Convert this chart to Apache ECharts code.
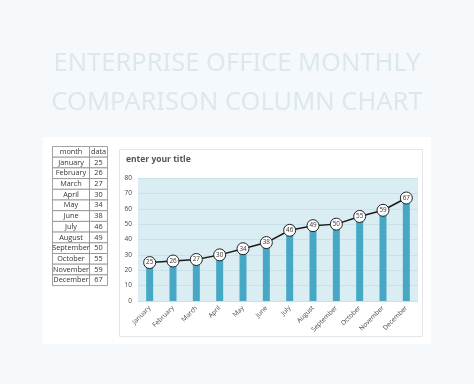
<!DOCTYPE html>
<html><head><meta charset="utf-8">
<script src="https://cdn.jsdelivr.net/npm/echarts@6/dist/echarts.min.js"></script>
<style>html,body{margin:0;padding:0;background:#f5f9fc;}#c{width:474px;height:384px;}</style>
</head><body><div id="c"></div>
<script>
var months = ['January','February','March','April','May','June','July','August','September','October','November','December'];
var values = [25,26,27,30,34,38,46,49,50,55,59,67];
var yTicks = [0,10,20,30,40,50,60,70,80];
var tableHeader = ['month','data'];

var chart = echarts.init(document.getElementById('c'), null, {renderer:'canvas'});

var graphics = [
  {type:'rect', shape:{x:43,y:137,width:388,height:207}, style:{fill:'#ffffff'}, z:-10},
  {type:'rect', shape:{x:119.5,y:149.5,width:303,height:187}, style:{fill:'#ffffff',stroke:'#e3e6e8',lineWidth:1}, z:-9}
];
var tx0 = 52.5, tx1 = 89.5, tx2 = 107.5, ty0 = 146.5, rh = 10.7;
var rows = [tableHeader].concat(months.map(function(m,i){return [m, String(values[i])];}));
rows.forEach(function(r, i){
  var y = ty0 + i*rh;
  graphics.push({type:'rect', shape:{x:tx0,y:y,width:tx1-tx0,height:rh}, style:{fill:'#fff',stroke:'#8a8a8a',lineWidth:0.8}, z:-5});
  graphics.push({type:'rect', shape:{x:tx1,y:y,width:tx2-tx1,height:rh}, style:{fill:'#fff',stroke:'#8a8a8a',lineWidth:0.8}, z:-5});
  graphics.push({type:'text', x:(tx0+tx1)/2, y:y+rh/2, style:{text:r[0], fill:'#333', font:'7.3px "Open Sans", sans-serif', align:'center', verticalAlign:'middle'}, z:-4});
  graphics.push({type:'text', x:(tx1+tx2)/2, y:y+rh/2, style:{text:r[1], fill:'#333', font:'7.3px "Open Sans", sans-serif', align:'center', verticalAlign:'middle'}, z:-4});
});

chart.setOption({
  animation:false,
  backgroundColor:'#f5f9fc',
  title:[
    {text:'ENTERPRISE OFFICE MONTHLY\nCOMPARISON COLUMN CHART', left:'center', top:44, padding:0,
     textStyle:{fontFamily:'"Noto Sans", sans-serif', fontWeight:'normal', fontSize:25.5, lineHeight:39, color:'#dde8ee'}},
    {text:'enter your title', left:126, top:155, padding:0,
     textStyle:{fontFamily:'"Open Sans", sans-serif', fontWeight:'bold', fontSize:8.5, color:'#555'}}
  ],
  graphic: graphics,
  grid:{left:138, right:56, top:178, bottom:83, show:true, backgroundColor:'#daedf3', borderWidth:0},
  xAxis:{type:'category', data:months, axisLine:{show:false}, axisTick:{show:false},
    axisLabel:{rotate:45, fontSize:6.5, color:'#444', margin:6, interval:0, fontFamily:'"Open Sans", sans-serif'}},
  yAxis:{type:'value', min:0, max:80, interval:10, axisLine:{show:false}, axisTick:{show:false},
    axisLabel:{fontSize:6.5, color:'#444', margin:6, fontFamily:'"Open Sans", sans-serif'},
    splitLine:{lineStyle:{color:'#c9e2ea', width:1}}},
  series:[
    {type:'bar', data:values, barWidth:7, itemStyle:{color:'#46a8c5'}},
    {type:'line', data:values, symbol:'circle', symbolSize:12,
      lineStyle:{color:'#1a1a1a', width:1.5},
      itemStyle:{color:'#ffffff', borderColor:'#222', borderWidth:1},
      label:{show:true, position:'inside', fontSize:6.3, color:'#333', fontFamily:'"Open Sans", sans-serif'}, z:3}
  ]
});
</script></body></html>
